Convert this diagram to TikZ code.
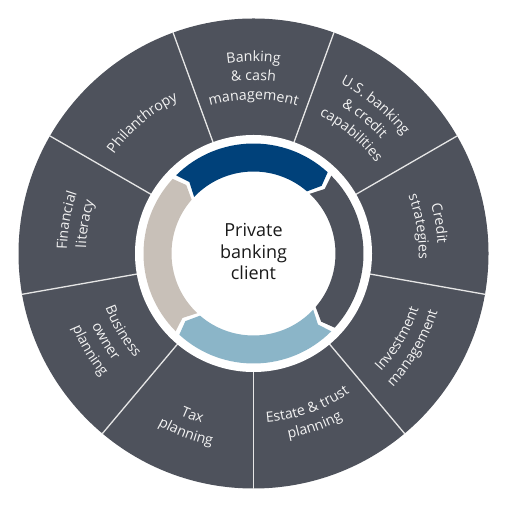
\documentclass[tikz,border=0pt]{standalone}
\usepackage{fontspec}
\setmainfont{Open Sans}
\usetikzlibrary{decorations.text}
\definecolor{ringgray}{HTML}{4E525C}
\definecolor{arrblue}{HTML}{00417A}
\definecolor{arrlight}{HTML}{8BB5C8}
\definecolor{arrbeige}{HTML}{C8C0B8}
\definecolor{sepline}{HTML}{E6E6E6}
\definecolor{lbltext}{HTML}{F2F2F2}
\definecolor{ctrtext}{HTML}{1A1A1A}
\newcommand\lblfont{\fontsize{14.2}{19}\selectfont}
% line of text along a circle, letters pointing outward (clockwise path)
\newcommand\upline[3]{\path[decorate,decoration={text along path,text align=center,text color=lbltext,text={|\lblfont|#3}}] (#1+40:#2) arc[start angle=#1+40,end angle=#1-40,radius=#2];}
% line of text along a circle, letters pointing inward (counterclockwise path)
\newcommand\lowline[3]{\path[decorate,decoration={text along path,text align=center,text color=lbltext,text={|\lblfont|#3}}] (#1-40:#2) arc[start angle=#1-40,end angle=#1+40,radius=#2];}
% arc arrow: tail junction, head junction, colour
\newcommand\arcarrow[3]{%
  \pgfmathsetmacro\nt{#1-1.3}%
  \pgfmathsetmacro\ph{#2+1.3}%
  \pgfmathsetmacro\nto{\nt+2.8}%
  \pgfmathsetmacro\nti{\nt+4.5}%
  \pgfmathsetmacro\pho{\ph+2.8}%
  \pgfmathsetmacro\phin{\ph+4.5}%
  \fill[#3] (\nto:110) arc[start angle=\nto,end angle=\pho,radius=110]
    -- (\ph:96) -- (\phin:82) arc[start angle=\phin,end angle=\nti,radius=82]
    -- (\nt:96) -- cycle;}
\begin{document}
\begin{tikzpicture}[x=1pt,y=1pt,
  ctr/.style={text=ctrtext,font=\fontsize{18}{21.7}\selectfont,align=center,inner sep=0pt},
  sep/.style={draw=sepline,line width=1.3pt}]
\useasboundingbox (0,0) rectangle (510,505);
\begin{scope}[shift={(253.5,251.5)}]
  \fill[ringgray] (0,0) circle[radius=235];
  \foreach \a in {30,70,...,350} \draw[sep] (\a:115) -- (\a:235.5);
  \fill[white] (0,0) circle[radius=118.5];
  \arcarrow{223.5}{133.2}{arrbeige}
  \arcarrow{133.2}{43.5}{arrblue}
  \arcarrow{43.5}{-46.5}{ringgray}
  \arcarrow{-46.5}{-136.5}{arrlight}
  \node[ctr] (client) at (0,2) {Private\\banking\\client};
  % Banking & cash management
  \upline{90}{192}{Banking}
  \upline{90}{173}{{\&} cash}
  \upline{90}{154}{management}
  % U.S. banking
  \upline{50.5}{190.5}{U.S. banking}
  \upline{50.5}{171.5}{{\&} credit}
  \upline{50.5}{152.5}{capabilities}
  % Credit strategies
  \upline{9.2}{184.3}{Credit}
  \upline{9.2}{165.3}{strategies}
  % Investment management
  \lowline{329.4}{174.1}{Investment}
  \lowline{329.4}{193.1}{management}
  % Estate & trust planning
  \lowline{289.5}{169.3}{Estate {\&} trust}
  \lowline{289.5}{188.3}{planning}
  % Tax planning
  \lowline{249.3}{177.5}{Tax}
  \lowline{249.3}{196.5}{planning}
  % Business owner planning
  \lowline{210.7}{157.7}{Business}
  \lowline{210.7}{176.7}{owner}
  \lowline{210.7}{195.7}{planning}
  % Financial literacy
  \upline{170}{186.5}{Financial}
  \upline{170}{167.5}{literacy}
  % Philanthropy
  \upline{130.4}{171}{Philanthropy}
\end{scope}
\end{tikzpicture}
\end{document}
